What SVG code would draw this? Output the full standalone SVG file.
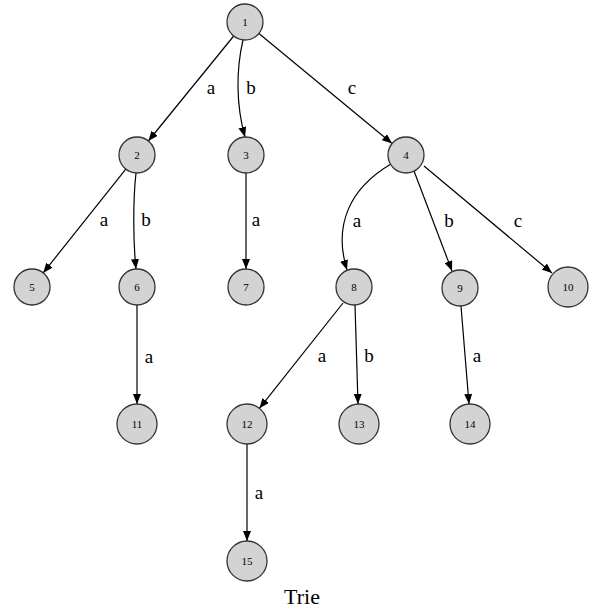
<svg xmlns="http://www.w3.org/2000/svg" width="600" height="614" viewBox="0 0 600 614">
<style>
.n circle{fill:#d3d3d3;stroke:#333;stroke-width:1.3}
.n text{font-family:"Liberation Serif",serif;font-size:11px;text-anchor:middle;fill:#000}
.e path{fill:none;stroke:#000;stroke-width:1.2;marker-end:url(#ah)}
.l{font-family:"Liberation Serif",serif;font-size:19px;text-anchor:middle;fill:#000}
</style>
<defs>
<marker id="ah" markerUnits="userSpaceOnUse" markerWidth="11" markerHeight="8" refX="10" refY="4" orient="auto">
<path d="M0,0 L10,4 L0,8 Z" fill="#000"/>
</marker>
</defs>
<rect width="600" height="614" fill="#fff"/>
<g id="edges" class="e">
<path d="M233.7,36 L148.3,141"/>
<path d="M243,40 C236,70 236,105 245,137"/>
<path d="M258.9,33.5 L392.1,143.5"/>
<path d="M125.8,169.1 L43.2,272.9"/>
<path d="M136,173 C133,200 133,240 136,269"/>
<path d="M246,173 L246,269"/>
<path d="M391,164 C350,188 333,225 347,270"/>
<path d="M414,171 L452,271"/>
<path d="M424,166 L552,273"/>
<path d="M137,305 L137,404"/>
<path d="M343,303 L259.4,408.3"/>
<path d="M355,305 L358,404"/>
<path d="M461,306 L469,404"/>
<path d="M247,444 L247,541"/>
</g>
<g id="labels">
<text class="l" x="211" y="94">a</text>
<text class="l" x="251" y="94">b</text>
<text class="l" x="352" y="94">c</text>
<text class="l" x="104" y="226">a</text>
<text class="l" x="146" y="226">b</text>
<text class="l" x="256" y="226">a</text>
<text class="l" x="357" y="227">a</text>
<text class="l" x="449" y="227">b</text>
<text class="l" x="518" y="227">c</text>
<text class="l" x="149" y="363">a</text>
<text class="l" x="322" y="362">a</text>
<text class="l" x="369" y="362">b</text>
<text class="l" x="477" y="362">a</text>
<text class="l" x="259" y="499">a</text>
</g>
<g id="n1" class="n"><circle cx="245" cy="22" r="18"/><text x="245" y="26">1</text></g>
<g id="n2" class="n"><circle cx="137" cy="155" r="18"/><text x="137" y="159">2</text></g>
<g id="n3" class="n"><circle cx="246" cy="155" r="18"/><text x="246" y="159">3</text></g>
<g id="n4" class="n"><circle cx="406" cy="155" r="18"/><text x="406" y="159">4</text></g>
<g id="n5" class="n"><circle cx="32" cy="287" r="18"/><text x="32" y="291">5</text></g>
<g id="n6" class="n"><circle cx="137" cy="287" r="18"/><text x="137" y="291">6</text></g>
<g id="n7" class="n"><circle cx="246" cy="287" r="18"/><text x="246" y="291">7</text></g>
<g id="n8" class="n"><circle cx="354" cy="287" r="18"/><text x="354" y="291">8</text></g>
<g id="n9" class="n"><circle cx="460" cy="288" r="18"/><text x="460" y="292">9</text></g>
<g id="n10" class="n"><circle cx="568" cy="287" r="20"/><text x="568" y="291">10</text></g>
<g id="n11" class="n"><circle cx="137" cy="424" r="20"/><text x="137" y="428">11</text></g>
<g id="n12" class="n"><circle cx="247" cy="424" r="20"/><text x="247" y="428">12</text></g>
<g id="n13" class="n"><circle cx="359" cy="424" r="20"/><text x="359" y="428">13</text></g>
<g id="n14" class="n"><circle cx="470" cy="424" r="20"/><text x="470" y="428">14</text></g>
<g id="n15" class="n"><circle cx="247" cy="561" r="20"/><text x="247" y="565">15</text></g>
<text x="302" y="604" font-family="'Liberation Serif',serif" font-size="22" text-anchor="middle">Trie</text>
</svg>
